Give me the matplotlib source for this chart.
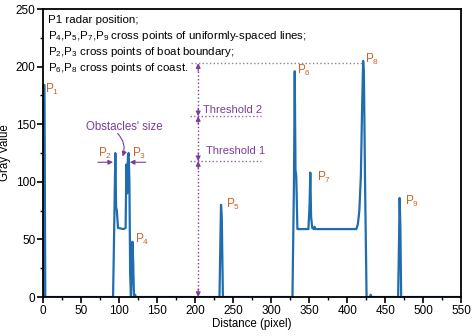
import matplotlib.pyplot as plt

plt.rcParams['font.family'] = ['Liberation Sans', 'DejaVu Sans']
plt.rcParams['mathtext.default'] = 'regular'

# gray value profile along the scan line
dist = [0, 0.5, 1.8, 2.8, 92, 93.5, 95, 96, 97, 98.5, 106, 108.5, 109.5, 110.5,
        111.5, 112.5, 113.5, 114.5, 115.5, 116.5, 117.5, 118.5, 119.5, 121, 122,
        232, 234, 235, 236.5, 328, 330, 331, 332, 333, 334.5, 349, 350.5, 351.5,
        352.5, 354, 356, 357, 358.5, 412, 414, 416, 418, 419.5, 421, 422, 423.5,
        425.5, 430, 431, 432, 467, 468, 469, 470, 471, 550]
gray = [0, 184, 184, 0, 0, 60, 125, 78, 75, 60, 59, 60, 115, 90,
        122, 125, 100, 20, 0, 20, 48, 30, 0, 2, 0,
        0, 80, 70, 0, 0, 100, 196, 110, 105, 59, 59, 80, 108,
        70, 60, 59, 61, 59, 59, 63, 75, 105, 160, 205, 195, 100,
        0, 0, 2, 0, 0, 40, 86, 60, 0, 0]

point_labels = ['1', '2', '3', '4', '5', '6', '7', '8', '9']
label_x = [3, 72, 117, 121, 240, 334, 360, 424, 476]
label_y = [180, 125, 125, 50, 80, 197, 104, 206, 83]

legend_lines = [
    'P1 radar position;',
    r'P$_4$,P$_5$,P$_7$,P$_9$ cross points of uniformly-spaced lines;',
    r'P$_2$,P$_3$ cross points of boat boundary;',
    r'P$_6$,P$_8$ cross points of coast.',
]

coast_level = 203
threshold2 = 157
threshold1 = 118

blue = '#1f6db0'
orange = '#c8642a'
purple = '#7a3d9a'

fig = plt.figure(figsize=(4.74, 3.36), dpi=100)
ax = fig.add_axes([0.091, 0.116, 0.882, 0.857])

ax.plot(dist, gray, color=blue, lw=1.6)

# orange point labels
for name, lx, ly in zip(point_labels, label_x, label_y):
    ax.text(lx, ly, 'P$_' + name + '$', color=orange, fontsize=8.5,
            va='center', ha='left')

# description block
for i, line in enumerate(legend_lines):
    ax.text(6, 240.5 - i * 14, line, fontsize=8.25, va='center', ha='left')

# reference lines
ax.plot([195, 422], [coast_level, coast_level], ls=':', color='#888888', lw=1)
for t in [threshold2, threshold1]:
    ax.plot([193, 287], [t, t], ls=':', color='#8a6a9a', lw=1)

ax_x = 204
ax.plot([ax_x, ax_x], [0, coast_level], ls=':', color=purple, lw=1)
heads = [(coast_level, 1), (threshold2, -1), (threshold2, 1),
         (threshold1, -1), (threshold1, 1), (0, -1)]
for y, d in heads:
    ax.annotate('', xy=(ax_x, y), xytext=(ax_x, y - d * 7),
                arrowprops=dict(arrowstyle='-|>', color=purple, lw=0.8,
                                mutation_scale=7, shrinkA=0, shrinkB=0))

ax.text(210, 162, 'Threshold 2', color=purple, fontsize=8, va='center')
ax.text(214, 127, 'Threshold 1', color=purple, fontsize=8, va='center')

# obstacles size annotation
ax.text(107, 147.5, "Obstacles' size", color=purple, fontsize=8.3,
        ha='center', va='center')
ax.annotate('', xy=(104.5, 122), xytext=(98, 142),
            arrowprops=dict(arrowstyle='-|>', color=purple, lw=0.8,
                            mutation_scale=7, shrinkA=0, shrinkB=0,
                            connectionstyle='arc3,rad=-0.3'))
ax.annotate('', xy=(92, 117), xytext=(72, 117),
            arrowprops=dict(arrowstyle='-|>', color=purple, lw=0.8,
                            mutation_scale=7, shrinkA=0, shrinkB=0))
ax.annotate('', xy=(114, 117), xytext=(135, 117),
            arrowprops=dict(arrowstyle='-|>', color=purple, lw=0.8,
                            mutation_scale=7, shrinkA=0, shrinkB=0))

ax.set_xlim(0, 550)
ax.set_ylim(0, 250)
ax.set_xticks(range(0, 551, 50))
ax.set_xticks(range(25, 550, 50), minor=True)
ax.set_yticks(range(0, 251, 50))
ax.set_yticks(range(25, 250, 50), minor=True)
ax.tick_params(direction='out', labelsize=8.5, width=1.2, length=4, pad=1.5)
ax.tick_params(which='minor', direction='out', width=1, length=2.5)
for s in ax.spines.values():
    s.set_linewidth(1.3)
ax.set_xlabel('Distance (pixel)', fontsize=8.3, labelpad=1)
ax.set_ylabel('Gray Value', fontsize=8.3)
ax.yaxis.set_label_coords(-0.076, 0.5)

fig.savefig('out.png', dpi=100)
